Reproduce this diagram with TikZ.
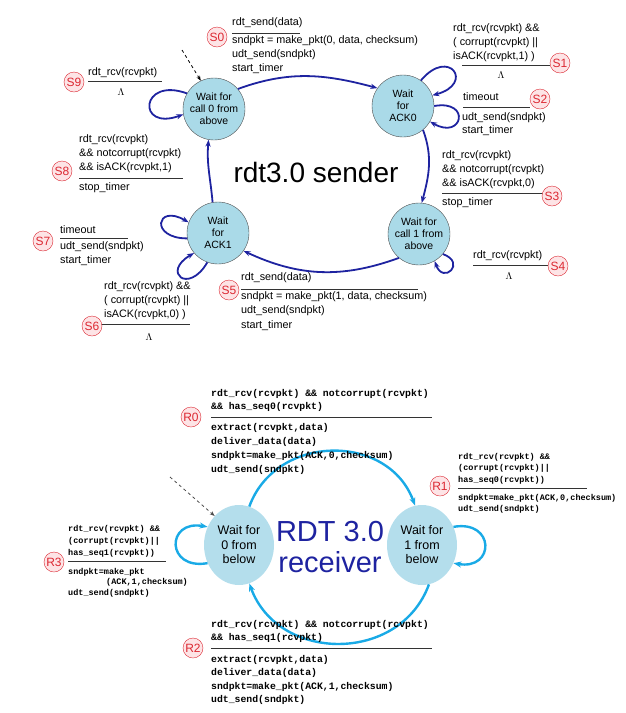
\documentclass[tikz,border=0pt]{standalone}
\usepackage{fontspec}
\setmainfont{Liberation Sans}
\newfontfamily\monof{Liberation Mono}
\usetikzlibrary{arrows.meta,shapes.geometric}
\definecolor{sblue}{RGB}{30,35,160}
\definecolor{sfill}{RGB}{170,218,232}
\definecolor{rblue}{RGB}{25,170,230}
\definecolor{rfill}{RGB}{180,222,236}
\definecolor{bred}{RGB}{220,40,50}
\definecolor{bpink}{RGB}{253,228,230}
\begin{document}
\begin{tikzpicture}[x=1pt,y=-1pt,
  sstate/.style={circle,draw=black!70,fill=sfill,minimum size=62pt,inner sep=0pt,align=center,font=\fontsize{10.5}{12}\selectfont},
  rstate/.style={ellipse,fill=rfill,minimum width=70pt,minimum height=80pt,inner sep=0pt,align=center,font=\fontsize{12.5}{14.5}\selectfont},
  sarr/.style={draw=sblue,line width=1.8pt,-{Stealth[length=7pt]}},
  rarr/.style={draw=rblue,line width=2.4pt,-{Stealth[length=8pt]}},
  badge/.style={circle,draw=bred,fill=bpink,text=bred,inner sep=0pt,minimum size=20pt,font=\fontsize{12}{12}\selectfont},
  lbl/.style={anchor=west,inner sep=0pt,font=\fontsize{10.8}{12}\selectfont},
  rl/.style={anchor=west,inner sep=0pt,font=\monof\bfseries\fontsize{9.8}{11}\selectfont},
  rs/.style={anchor=west,inner sep=0pt,font=\monof\bfseries\fontsize{8.5}{10}\selectfont},
  rule/.style={draw=black!80,line width=0.8pt}]
\useasboundingbox (0,0) rectangle (625,713);
% SENDER
\node[sstate] (C0) at (214,109) {Wait for\\call 0 from\\above};
\node[sstate] (A0) at (403,106) {Wait\\for\\ACK0};
\node[sstate] (C1) at (419,234) {Wait for\\call 1 from\\above};
\node[sstate] (A1) at (218,233) {Wait\\for\\ACK1};
\node[font=\fontsize{28}{30}\selectfont] (ST) at (316,172) {rdt3.0 sender};
\coordinate (SIN) at (182,50);
\draw[dashed,thick,-{Stealth[length=5pt]}] (SIN) -- (C0.115);
\draw[sarr] (C0.40) to[out=20,in=165] (A0.145);
\draw[sarr] (A0.-50) to[out=-70,in=75] (C1.85);
\draw[sarr] (C1.-130) to[out=-160,in=-25] (A1.-35);
\draw[sarr] (A1.100) to[out=95,in=-95] (C0.-100);
\draw[sarr] (C0.150) to[out=160,in=200,looseness=6] (C0.190);
\draw[sarr] (A0.55) to[out=50,in=15,looseness=6] (A0.20);
\draw[sarr] (A0.0) to[out=10,in=-30,looseness=6] (A0.-30);
\draw[sarr] (C1.-40) to[out=-20,in=-70,looseness=6] (C1.-60);
\draw[sarr] (A1.190) to[out=180,in=150,looseness=6] (A1.160);
\draw[sarr] (A1.-110) to[out=-120,in=-150,looseness=6] (A1.-140);
% S0
\node[lbl] (t00) at (232,23) {rdt\_send(data)};
\draw[rule] (232,33) -- (300,33);
\node[lbl] (t01) at (232,41) {sndpkt = make\_pkt(0, data, checksum)};
\node[lbl] (t02) at (232,55) {udt\_send(sndpkt)};
\node[lbl] (t03) at (232,69) {start\_timer};
\node[badge] (S0) at (217,37) {S0};
% S1
\node[lbl] (t10) at (453,29) {rdt\_rcv(rcvpkt) \&\&};
\node[lbl] (t11) at (453,43) {( corrupt(rcvpkt) ||};
\node[lbl] (t12) at (453,57) {isACK(rcvpkt,1) )};
\draw[rule] (462,65) -- (550,65);
\node (l1) at (501,75) {$\Lambda$};
\node[badge] (S1) at (560,63) {S1};
% S2
\node[lbl] (t20) at (463,97) {timeout};
\draw[rule] (463,107) -- (530,107);
\node[lbl] (t21) at (462,118) {udt\_send(sndpkt)};
\node[lbl] (t22) at (462,131) {start\_timer};
\node[badge] (S2) at (540,99) {S2};
% S3
\node[lbl] (t30) at (442,156) {rdt\_rcv(rcvpkt)};
\node[lbl] (t31) at (442,170) {\&\& notcorrupt(rcvpkt)};
\node[lbl] (t32) at (442,184) {\&\& isACK(rcvpkt,0)};
\draw[rule] (442,193) -- (545,193);
\node[lbl] (t33) at (442,203) {stop\_timer};
\node[badge] (S3) at (552,196) {S3};
% S4
\node[lbl] (t40) at (473,256) {rdt\_rcv(rcvpkt)};
\draw[rule] (473,265) -- (550,265);
\node (l4) at (509,276) {$\Lambda$};
\node[badge] (S4) at (558,266) {S4};
% S5
\node[lbl] (t50) at (241,278) {rdt\_send(data)};
\draw[rule] (241,289) -- (418,289);
\node[lbl] (t51) at (241,297) {sndpkt = make\_pkt(1, data, checksum)};
\node[lbl] (t52) at (241,311) {udt\_send(sndpkt)};
\node[lbl] (t53) at (241,326) {start\_timer};
\node[badge] (S5) at (229,290) {S5};
% S6
\node[lbl] (t60) at (104,287) {rdt\_rcv(rcvpkt) \&\&};
\node[lbl] (t61) at (104,301) {( corrupt(rcvpkt) ||};
\node[lbl] (t62) at (104,315) {isACK(rcvpkt,0) )};
\draw[rule] (100,324) -- (190,324);
\node (l6) at (149,337) {$\Lambda$};
\node[badge] (S6) at (92,326) {S6};
% S7
\node[lbl] (t70) at (60,230) {timeout};
\draw[rule] (60,238) -- (128,238);
\node[lbl] (t71) at (60,247) {udt\_send(sndpkt)};
\node[lbl] (t72) at (60,261) {start\_timer};
\node[badge] (S7) at (43,241) {S7};
% S8
\node[lbl] (t80) at (79,140) {rdt\_rcv(rcvpkt)};
\node[lbl] (t81) at (79,154) {\&\& notcorrupt(rcvpkt)};
\node[lbl] (t82) at (79,168) {\&\& isACK(rcvpkt,1)};
\draw[rule] (79,178) -- (183,178);
\node[lbl] (t83) at (79,188) {stop\_timer};
\node[badge] (S8) at (62,171) {S8};
% S9
\node[lbl] (t90) at (88,73) {rdt\_rcv(rcvpkt)};
\draw[rule] (88,81) -- (162,81);
\node (l9) at (121,92) {$\Lambda$};
\node[badge] (S9) at (74,82) {S9};
% RECEIVER
\node[rstate] (R0N) at (239,545) {Wait for\\0 from\\below};
\node[rstate] (R1N) at (422,545) {Wait for\\1 from\\below};
\node[text=sblue,align=center,font=\fontsize{29}{31}\selectfont] (RT) at (330,547) {RDT 3.0\\receiver};
\coordinate (RIN) at (170,477);
\draw[dashed,thick,black!70,-{Stealth[length=5pt]}] (RIN) -- (R0N.130);
\draw[rarr] (R0N.75) to[out=70,in=110,looseness=1.2] (R1N.100);
\draw[rarr] (R1N.-80) to[out=-110,in=-70,looseness=1.2] (R0N.-75);
\draw[rarr] (R0N.-150) to[out=190,in=170,looseness=3] (R0N.150);
\draw[rarr] (R1N.30) to[out=10,in=-10,looseness=3] (R1N.-30);
% R0
\node[rl] (u00) at (211,394) {rdt\_rcv(rcvpkt) \&\& notcorrupt(rcvpkt)};
\node[rl] (u01) at (211,407) {\&\& has\_seq0(rcvpkt)};
\draw[rule] (211,417) -- (432,417);
\node[rl] (u02) at (211,428) {extract(rcvpkt,data)};
\node[rl] (u03) at (211,442) {deliver\_data(data)};
\node[rl] (u04) at (211,456) {sndpkt=make\_pkt(ACK,0,checksum)};
\node[rl] (u05) at (211,470) {udt\_send(sndpkt)};
\node[badge] (R0) at (191,417) {R0};
% R1
\node[rs] (u10) at (458,457) {rdt\_rcv(rcvpkt) \&\&};
\node[rs] (u11) at (458,468) {(corrupt(rcvpkt)||};
\node[rs] (u12) at (458,480) {has\_seq0(rcvpkt))};
\draw[rule] (458,488) -- (587,488);
\node[rs] (u13) at (458,498) {sndpkt=make\_pkt(ACK,0,checksum)};
\node[rs] (u14) at (458,509) {udt\_send(sndpkt)};
\node[badge] (R1) at (440,486) {R1};
% R3
\node[rs] (u30) at (68,529) {rdt\_rcv(rcvpkt) \&\&};
\node[rs] (u31) at (68,541) {(corrupt(rcvpkt)||};
\node[rs] (u32) at (68,553) {has\_seq1(rcvpkt))};
\draw[rule] (68,561) -- (166,561);
\node[rs] (u33) at (68,572) {sndpkt=make\_pkt};
\node[rs] (u34) at (106,582) {(ACK,1,checksum)};
\node[rs] (u35) at (68,593) {udt\_send(sndpkt)};
\node[badge] (R3) at (54,562) {R3};
% R2
\node[rl] (u20) at (211,625) {rdt\_rcv(rcvpkt) \&\& notcorrupt(rcvpkt)};
\node[rl] (u21) at (211,638) {\&\& has\_seq1(rcvpkt)};
\draw[rule] (211,648) -- (432,648);
\node[rl] (u22) at (211,660) {extract(rcvpkt,data)};
\node[rl] (u23) at (211,673) {deliver\_data(data)};
\node[rl] (u24) at (211,687) {sndpkt=make\_pkt(ACK,1,checksum)};
\node[rl] (u25) at (211,700) {udt\_send(sndpkt)};
\node[badge] (R2) at (193,648) {R2};
\end{tikzpicture}
\end{document}
